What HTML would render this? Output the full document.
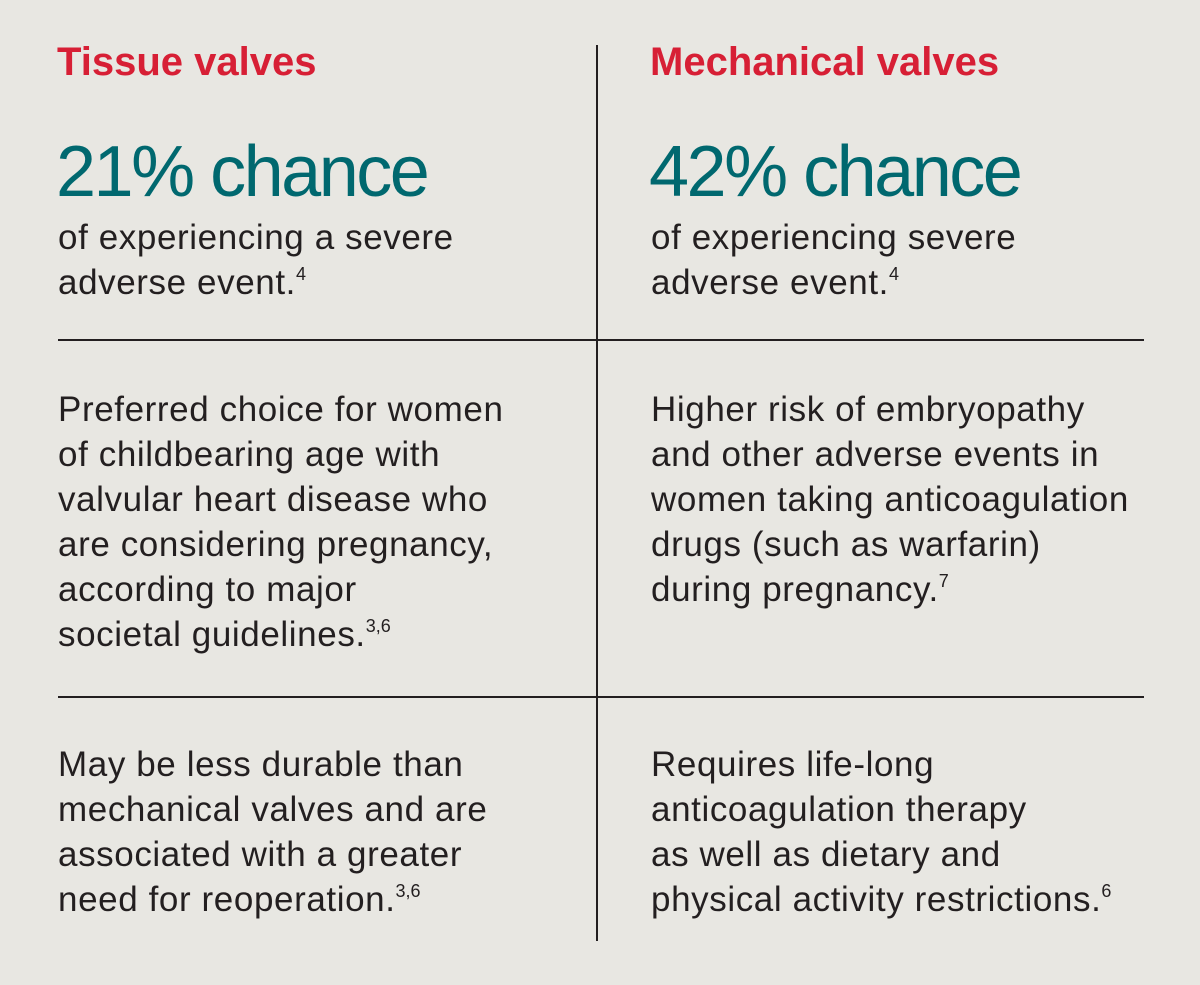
<!DOCTYPE html>
<html><head><meta charset="utf-8"><style>
body{margin:0;width:1200px;height:985px;background:#e8e7e2;position:relative;overflow:hidden;font-family:"Liberation Sans",sans-serif;color:#231f20}
.t{position:absolute;white-space:nowrap}
.h{font-weight:bold;font-size:40px;color:#d71f35;letter-spacing:0px}
.big{font-size:72px;color:#00686f;letter-spacing:-2.5px}
.b{font-size:35px;line-height:45px;letter-spacing:0.6px}
sup{font-size:18px;vertical-align:14px;line-height:0;letter-spacing:0}
.l{position:absolute;background:#231f20}
</style></head><body>
<div class="l" style="left:596px;top:45px;width:2px;height:896px"></div>
<div class="l" style="left:58px;top:339px;width:1086px;height:2px"></div>
<div class="l" style="left:58px;top:696px;width:1086px;height:2px"></div>

<div class="t h" style="left:57px;top:40px">Tissue valves</div>
<div class="t h" style="left:650px;top:40px">Mechanical valves</div>
<div class="t big" style="left:56px;top:131px">21% chance</div>
<div class="t big" style="left:649px;top:131px">42% chance</div>

<div class="t b" style="left:58px;top:215px">of experiencing a severe<br>adverse event.<sup>4</sup></div>
<div class="t b" style="left:651px;top:215px">of experiencing severe<br>adverse event.<sup>4</sup></div>

<div class="t b" style="left:58px;top:387px">Preferred choice for women<br>of childbearing age with<br>valvular heart disease who<br>are considering pregnancy,<br>according to major<br>societal guidelines.<sup>3,6</sup></div>
<div class="t b" style="left:651px;top:387px">Higher risk of embryopathy<br>and other adverse events in<br>women taking anticoagulation<br>drugs (such as warfarin)<br>during pregnancy.<sup>7</sup></div>

<div class="t b" style="left:58px;top:742px">May be less durable than<br>mechanical valves and are<br>associated with a greater<br>need for reoperation.<sup>3,6</sup></div>
<div class="t b" style="left:651px;top:742px">Requires life-long<br>anticoagulation therapy<br>as well as dietary and<br>physical activity restrictions.<sup>6</sup></div>
</body></html>
